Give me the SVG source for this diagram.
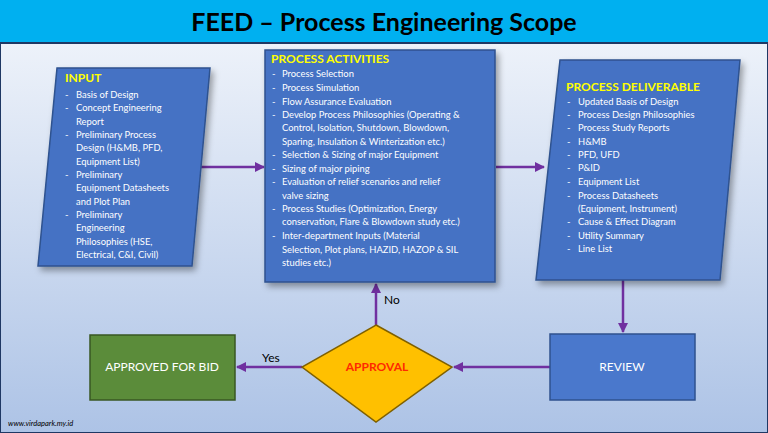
<svg xmlns="http://www.w3.org/2000/svg" width="768" height="433" viewBox="0 0 768 433">
<defs>
<linearGradient id="bg" x1="0" y1="0" x2="0" y2="1"><stop offset="0" stop-color="#f4f7fc"/><stop offset="1" stop-color="#adc3e6"/></linearGradient>
<marker id="ah" viewBox="0 0 10 10" refX="9" refY="5" markerWidth="4" markerHeight="4" orient="auto"><path d="M0,0L10,5L0,10z" fill="#7030a0"/></marker>
<filter id="sh" x="-10%" y="-10%" width="130%" height="130%"><feDropShadow dx="3" dy="4" stdDeviation="3" flood-color="#000" flood-opacity="0.35"/></filter>
</defs>
<style>
text{font-family:Lato,"Open Sans",sans-serif}
.it{font-size:9.4px;fill:#fff}
.hd{font-size:12px;font-weight:bold;fill:#ffff00}
.box{fill:#4472c4;stroke:#2f528f;stroke-width:1.5;filter:url(#sh)}
.cn{stroke:#7030a0;stroke-width:2.5;fill:none;marker-end:url(#ah)}
.lb{font-size:12px;fill:#000}
.bt{font-size:12px;fill:#fff;text-anchor:middle}
</style>
<rect x="0" y="0" width="768" height="433" fill="url(#bg)" stroke="#1f3864" stroke-width="2"/>
<rect x="0" y="0" width="768" height="43" fill="#00b0f0"/>
<line x1="0" y1="43" x2="768" y2="43" stroke="#1f3864" stroke-width="2"/>
<text x="384" y="31" text-anchor="middle" font-size="25" font-weight="bold" fill="#000">FEED – Process Engineering Scope</text>

<g id="connectors">
<line class="cn" x1="198" y1="167" x2="264" y2="167"/>
<line class="cn" x1="496" y1="167" x2="544" y2="167"/>
<line class="cn" x1="623" y1="280" x2="623" y2="332"/>
<line class="cn" x1="550" y1="367" x2="454" y2="367"/>
<line class="cn" x1="376" y1="325" x2="376" y2="284"/>
<line class="cn" x1="302" y1="367" x2="237" y2="367"/>
<text class="lb" x="384" y="304">No</text>
<text class="lb" x="262" y="362">Yes</text>
</g>

<g id="input">
<polygon class="box" points="57,68 210,68 192,266 38,266"/>
<text class="hd" x="65" y="82">INPUT</text>
<g class="it">
<text x="65" y="98">-</text><text x="76" y="98">Basis of Design</text>
<text x="65" y="111">-</text><text x="76" y="111">Concept Engineering</text>
<text x="76" y="125">Report</text>
<text x="65" y="138">-</text><text x="76" y="138">Preliminary Process</text>
<text x="76" y="151">Design (H&amp;MB, PFD,</text>
<text x="76" y="165">Equipment List)</text>
<text x="65" y="178">-</text><text x="76" y="178">Preliminary</text>
<text x="76" y="191">Equipment Datasheets</text>
<text x="76" y="205">and Plot Plan</text>
<text x="65" y="218">-</text><text x="76" y="218">Preliminary</text>
<text x="76" y="231">Engineering</text>
<text x="76" y="245">Philosophies (HSE,</text>
<text x="76" y="258">Electrical, C&amp;I, Civil)</text>
</g>
</g>

<g id="activities">
<rect class="box" x="265" y="50" width="230" height="232"/>
<text class="hd" x="271" y="63">PROCESS ACTIVITIES</text>
<g class="it">
<text x="272" y="77">-</text><text x="282" y="77">Process Selection</text>
<text x="272" y="91">-</text><text x="282" y="91">Process Simulation</text>
<text x="272" y="105">-</text><text x="282" y="105">Flow Assurance Evaluation</text>
<text x="272" y="118">-</text><text x="282" y="118">Develop Process Philosophies (Operating &amp;</text>
<text x="282" y="131">Control, Isolation, Shutdown, Blowdown,</text>
<text x="282" y="145">Sparing, Insulation &amp; Winterization etc.)</text>
<text x="272" y="158">-</text><text x="282" y="158">Selection &amp; Sizing of major Equipment</text>
<text x="272" y="172">-</text><text x="282" y="172">Sizing of major piping</text>
<text x="272" y="185">-</text><text x="282" y="185">Evaluation of relief scenarios and relief</text>
<text x="282" y="199">valve sizing</text>
<text x="272" y="212">-</text><text x="282" y="212">Process Studies (Optimization, Energy</text>
<text x="282" y="225">conservation, Flare &amp; Blowdown study etc.)</text>
<text x="272" y="239">-</text><text x="282" y="239">Inter-department Inputs (Material</text>
<text x="282" y="253">Selection, Plot plans, HAZID, HAZOP &amp; SIL</text>
<text x="282" y="266">studies etc.)</text>
</g>
</g>

<g id="deliverable">
<polygon class="box" points="560,60 740,60 720,280 536,280"/>
<text class="hd" x="566" y="91">PROCESS DELIVERABLE</text>
<g class="it">
<text x="567" y="105">-</text><text x="578" y="105">Updated Basis of Design</text>
<text x="567" y="118">-</text><text x="578" y="118">Process Design Philosophies</text>
<text x="567" y="131">-</text><text x="578" y="131">Process Study Reports</text>
<text x="567" y="145">-</text><text x="578" y="145">H&amp;MB</text>
<text x="567" y="158">-</text><text x="578" y="158">PFD, UFD</text>
<text x="567" y="171">-</text><text x="578" y="171">P&amp;ID</text>
<text x="567" y="185">-</text><text x="578" y="185">Equipment List</text>
<text x="567" y="199">-</text><text x="578" y="199">Process Datasheets</text>
<text x="578" y="212">(Equipment, Instrument)</text>
<text x="567" y="225">-</text><text x="578" y="225">Cause &amp; Effect Diagram</text>
<text x="567" y="239">-</text><text x="578" y="239">Utility Summary</text>
<text x="567" y="252">-</text><text x="578" y="252">Line List</text>
</g>
</g>

<g id="review">
<rect x="550" y="334" width="145" height="66" fill="#4a78cc" stroke="#2f528f" stroke-width="1.5"/>
<text class="bt" x="622" y="371">REVIEW</text>
</g>

<g id="approval">
<polygon points="376,325 452,367 376,422 302,367" fill="#ffc000" stroke="#7f6000" stroke-width="1.5"/>
<text x="377" y="371" text-anchor="middle" font-size="12" font-weight="bold" fill="#ff2a00">APPROVAL</text>
</g>

<g id="approved">
<rect x="90" y="335" width="145" height="65" fill="#5b8c3a" stroke="#385723" stroke-width="1.5"/>
<text class="bt" x="162" y="371">APPROVED FOR BID</text>
</g>

<text x="8" y="426" font-size="7.5" font-style="italic" fill="#000">www.virdapark.my.id</text>
</svg>
